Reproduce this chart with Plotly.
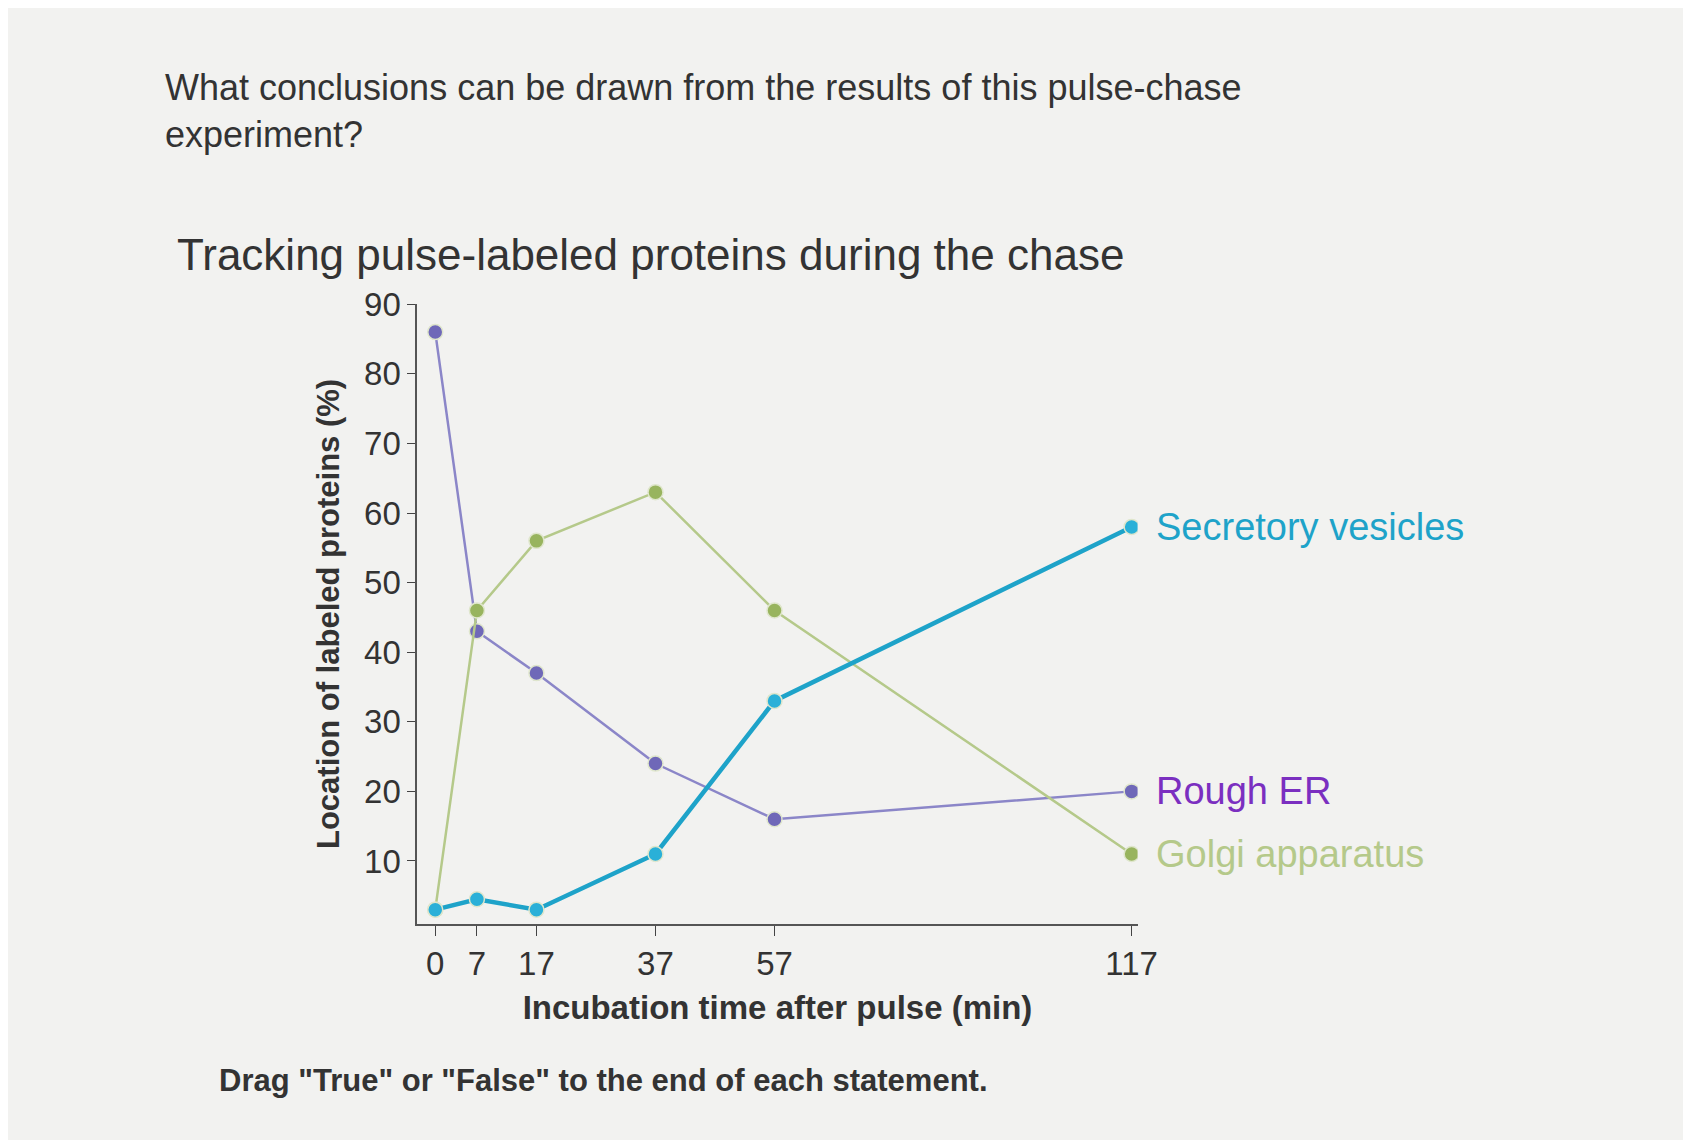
import plotly.graph_objects as go

times = [0, 7, 17, 37, 57, 117]
rough_er = [86, 43, 37, 24, 16, 20]
golgi = [3, 46, 56, 63, 46, 11]
secretory = [3, 4.5, 3, 11, 33, 58]
tick_labels = ["0", "7", "17", "37", "57", "117"]

fig = go.Figure()
series = [
    ("Rough ER", rough_er, "#8b86c8", "#6f68b8", 2.5),
    ("Golgi apparatus", golgi, "#b5c98a", "#98b45e", 2.5),
    ("Secretory vesicles", secretory, "#1ea3c9", "#2ab0d8", 4.5),
]
for name, vals, lc, mc, w in series:
    fig.add_trace(go.Scatter(x=times, y=vals, mode="lines+markers", name=name,
                             line=dict(color=lc, width=w),
                             marker=dict(size=15, color=mc, line=dict(color="#dfe6cc", width=1.5))))
    fig.add_annotation(x=times[-1], y=vals[-1], text=name, xanchor="left", showarrow=False,
                       xshift=22, font=dict(size=38, color=lc if name != "Rough ER" else "#7b2fc0",
                                             family="Liberation Sans"))

fig.update_layout(
    width=1691, height=1140, paper_bgcolor="#f2f2f0", plot_bgcolor="#f2f2f0",
    showlegend=False, margin=dict(l=0, r=0, t=0, b=0),
    font=dict(family="Liberation Sans", color="#333"),
    xaxis=dict(domain=[0.245, 0.676], range=[-3, 118], tickvals=times, ticktext=tick_labels,
               showgrid=False, zeroline=False, showline=True, linecolor="#555", linewidth=2,
               ticks="outside", ticklen=10, tickfont=dict(size=33),
               title=dict(text="<b>Incubation time after pulse (min)</b>", font=dict(size=33))),
    yaxis=dict(domain=[0.2, 0.752], range=[1, 90], tickvals=[10, 20, 30, 40, 50, 60, 70, 80, 90],
               showgrid=False, zeroline=False, showline=True, linecolor="#555", linewidth=2,
               ticks="outside", ticklen=8, tickfont=dict(size=33),
               title=dict(text="<b>Location of labeled proteins (%)</b>", font=dict(size=31))),
)
fig.add_annotation(xref="paper", yref="paper", x=0.093, y=0.965, xanchor="left", yanchor="top",
                   align="left", showarrow=False,
                   text="What conclusions can be drawn from the results of this pulse-chase<br>experiment?",
                   font=dict(size=36, color="#333"))
fig.add_annotation(xref="paper", yref="paper", x=0.1, y=0.82, xanchor="left", showarrow=False,
                   text="Tracking pulse-labeled proteins during the chase", font=dict(size=44, color="#333"))
fig.add_annotation(xref="paper", yref="paper", x=0.125, y=0.043, xanchor="left", showarrow=False,
                   text="<b>Drag \"True\" or \"False\" to the end of each statement.</b>",
                   font=dict(size=31, color="#333"))
fig.write_html("out.html")
